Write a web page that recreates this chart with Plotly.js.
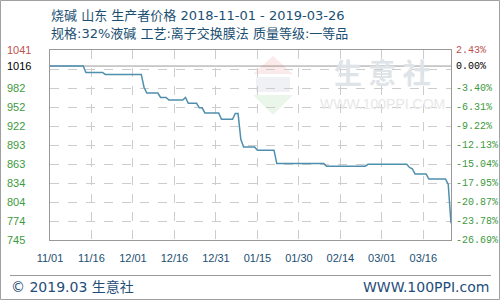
<!DOCTYPE html>
<html>
<head>
<meta charset="utf-8">
<script src="https://cdn.plot.ly/plotly-3.0.1.min.js"></script>
<style>
html,body{margin:0;padding:0;background:#fff;}
#chart{width:500px;height:300px;}
</style>
</head>
<body>
<div id="chart"></div>
<script>
// ---- data ----
const dates = ['2018-11-01','2018-11-13','2018-11-14','2018-11-20','2018-11-21','2018-12-04','2018-12-05','2018-12-06','2018-12-10','2018-12-11','2018-12-13','2018-12-14','2018-12-19','2018-12-20','2018-12-21','2018-12-24','2018-12-25','2018-12-26','2018-12-27','2019-01-01','2019-01-02','2019-01-06','2019-01-07','2019-01-08','2019-01-09','2019-01-10','2019-01-14','2019-01-15','2019-01-21','2019-01-22','2019-02-08','2019-02-09','2019-02-23','2019-02-24','2019-03-10','2019-03-11','2019-03-12','2019-03-13','2019-03-17','2019-03-18','2019-03-24','2019-03-25','2019-03-26'];
const prices = [1016,1016,1006,1006,1003,1003,983,974,974,967,967,963,963,967,958,958,951,951,943,943,933,933,942,942,902,890,890,885,885,864,864,860,860,863,863,858,856,848,848,840,840,832,771];

const baseValue = 1016;
const yMin = 745;
const yMax = 1041;
const yLeftLabels = ['745','774','804','834','863','893','922','952','982'];
const yRightLabels = ['-26.69%','-23.78%','-20.87%','-17.95%','-15.04%','-12.13%','-9.22%','-6.31%','-3.40%'];
const maxRightLabel = '2.43%';
const baseRightLabel = '0.00%';
const xTickDates = ['2018-11-01','2018-11-16','2018-12-01','2018-12-16','2018-12-31','2019-01-15','2019-01-30','2019-02-14','2019-03-01','2019-03-16'];
const xTickLabels = ['11/01','11/16','12/01','12/16','12/31','01/15','01/30','02/14','03/01','03/16'];
const title1 = '烧碱 山东 生产者价格 2018-11-01 - 2019-03-26';
const title2 = '规格:32%液碱 工艺:离子交换膜法 质量等级:一等品';
const footLeft = '© 2019.03 生意社';
const footRight = 'WWW.100PPI.com';

// ---- layout helpers ----
const W = 500, H = 300, L = 50, R = 49, T = 50, B = 60;
const pw = W - L - R, ph = H - T - B;
const px = x => (x - L) / pw;
const py = y => (H - B - y) / ph;

const nSteps = 10;
const step = (yMax - yMin) / nSteps;
const gridVals = [];
for (let k = 0; k <= nSteps; k++) gridVals.push(yMin + k * step);

const green = '#3d9a3d', red = '#c0504d', blue = '#1b4f72';
const annotations = [];
const leftFont = {family: 'Liberation Sans, Arial, sans-serif', size: 11};
const rightFont = {family: 'Liberation Mono, DejaVu Sans Mono, monospace', size: 10};

yLeftLabels.forEach((t, k) => {
  annotations.push({xref:'paper', yref:'y', x:px(5), y:gridVals[k], xanchor:'left', yanchor:'middle', text:t, showarrow:false, font:Object.assign({color:green}, leftFont)});
});
yRightLabels.forEach((t, k) => {
  annotations.push({xref:'paper', yref:'y', x:px(454), y:gridVals[k], xanchor:'left', yanchor:'middle', text:t, showarrow:false, font:Object.assign({color:green}, rightFont)});
});
annotations.push({xref:'paper', yref:'y', x:px(5), y:yMax, xanchor:'left', yanchor:'middle', text:String(yMax), showarrow:false, font:Object.assign({color:red}, leftFont)});
annotations.push({xref:'paper', yref:'y', x:px(5), y:baseValue, xanchor:'left', yanchor:'middle', text:String(baseValue), showarrow:false, font:Object.assign({color:'#000'}, leftFont)});
annotations.push({xref:'paper', yref:'y', x:px(454), y:yMax, xanchor:'left', yanchor:'middle', text:maxRightLabel, showarrow:false, font:Object.assign({color:red}, rightFont)});
annotations.push({xref:'paper', yref:'y', x:px(454), y:baseValue, xanchor:'left', yanchor:'middle', text:baseRightLabel, showarrow:false, font:Object.assign({color:'#000'}, rightFont)});

const titleFont = {family:'DejaVu Sans, Noto Sans CJK SC, sans-serif', size:13, color:blue};
annotations.push({xref:'paper', yref:'paper', x:px(49), y:py(15), xanchor:'left', yanchor:'middle', text:title1, showarrow:false, font:titleFont});
annotations.push({xref:'paper', yref:'paper', x:px(49), y:py(34), xanchor:'left', yanchor:'middle', text:title2, showarrow:false, font:titleFont});

const footFont = {family:'DejaVu Sans, Noto Sans CJK SC, sans-serif', size:14, color:'#1f4e79'};
annotations.push({xref:'paper', yref:'paper', x:px(9), y:py(287), xanchor:'left', yanchor:'middle', text:footLeft, showarrow:false, font:footFont});
annotations.push({xref:'paper', yref:'paper', x:px(491), y:py(287), xanchor:'right', yanchor:'middle', text:footRight, showarrow:false, font:footFont});

// watermark
annotations.push({xref:'paper', yref:'paper', x:px(382), y:py(72), xanchor:'center', yanchor:'middle', text:'生 意 社', showarrow:false, font:{family:'Noto Sans CJK SC, sans-serif', size:28, color:'#dfe4e8', weight:700}});
annotations.push({xref:'paper', yref:'paper', x:px(382), y:py(104), xanchor:'center', yanchor:'middle', text:'WWW.100PPI.COM', showarrow:false, font:{family:'Liberation Sans, Arial, sans-serif', size:14, color:'#e8e8e8'}});

const shapes = [
  // base line
  {type:'line', xref:'paper', yref:'y', x0:0, x1:1, y0:baseValue, y1:baseValue, line:{color:'#999', width:1}, layer:'below'},
  // footer line
  {type:'line', xref:'paper', yref:'paper', x0:px(10), x1:px(491), y0:py(275.5), y1:py(275.5), line:{color:'#999', width:1}},
  // outer frame
  {type:'rect', xref:'paper', yref:'paper', x0:px(0.5), x1:px(499.5), y0:py(299.5), y1:py(0.5), line:{color:'#a0a0a0', width:1}},
  // logo watermark
  {type:'path', xref:'paper', yref:'paper', path:`M ${px(273)} ${py(56)} L ${px(293)} ${py(74)} L ${px(253)} ${py(74)} Z`, fillcolor:'rgba(220,80,80,0.12)', line:{width:0}, layer:'below'},
  {type:'rect', xref:'paper', yref:'paper', x0:px(256), x1:px(290), y0:py(92), y1:py(77), fillcolor:'rgba(150,160,190,0.15)', line:{width:0}, layer:'below'},
  {type:'path', xref:'paper', yref:'paper', path:`M ${px(253)} ${py(95)} L ${px(293)} ${py(95)} L ${px(273)} ${py(115)} Z`, fillcolor:'rgba(80,180,80,0.12)', line:{width:0}, layer:'below'}
];

const trace = {
  x: dates, y: prices, type:'scatter', mode:'lines',
  line:{color:'#4f8fad', width:1.5},
  hoverinfo:'skip'
};

const layout = {
  width:W, height:H,
  margin:{l:L, r:R, t:T, b:B, pad:0},
  paper_bgcolor:'#fff', plot_bgcolor:'#fff',
  showlegend:false,
  xaxis:{
    type:'date', range:['2018-11-01','2019-03-26'],
    tickvals:xTickDates, ticktext:xTickLabels,
    showgrid:true, gridcolor:'#cccccc', griddash:'dash', gridwidth:1,
    showline:true, mirror:true, linecolor:'#999', linewidth:1,
    zeroline:false, ticks:'', ticklabelstandoff:8,
    tickfont:{family:'Liberation Sans, Arial, sans-serif', size:11, color:blue},
    fixedrange:true
  },
  yaxis:{
    range:[yMin, yMax], tickvals:gridVals, showticklabels:false,
    showgrid:true, gridcolor:'#cccccc', griddash:'dash', gridwidth:1,
    showline:true, mirror:true, linecolor:'#999', linewidth:1,
    zeroline:false, ticks:'', fixedrange:true
  },
  annotations:annotations,
  shapes:shapes
};

Plotly.newPlot('chart', [trace], layout, {staticPlot:true, displayModeBar:false});
</script>
</body>
</html>
